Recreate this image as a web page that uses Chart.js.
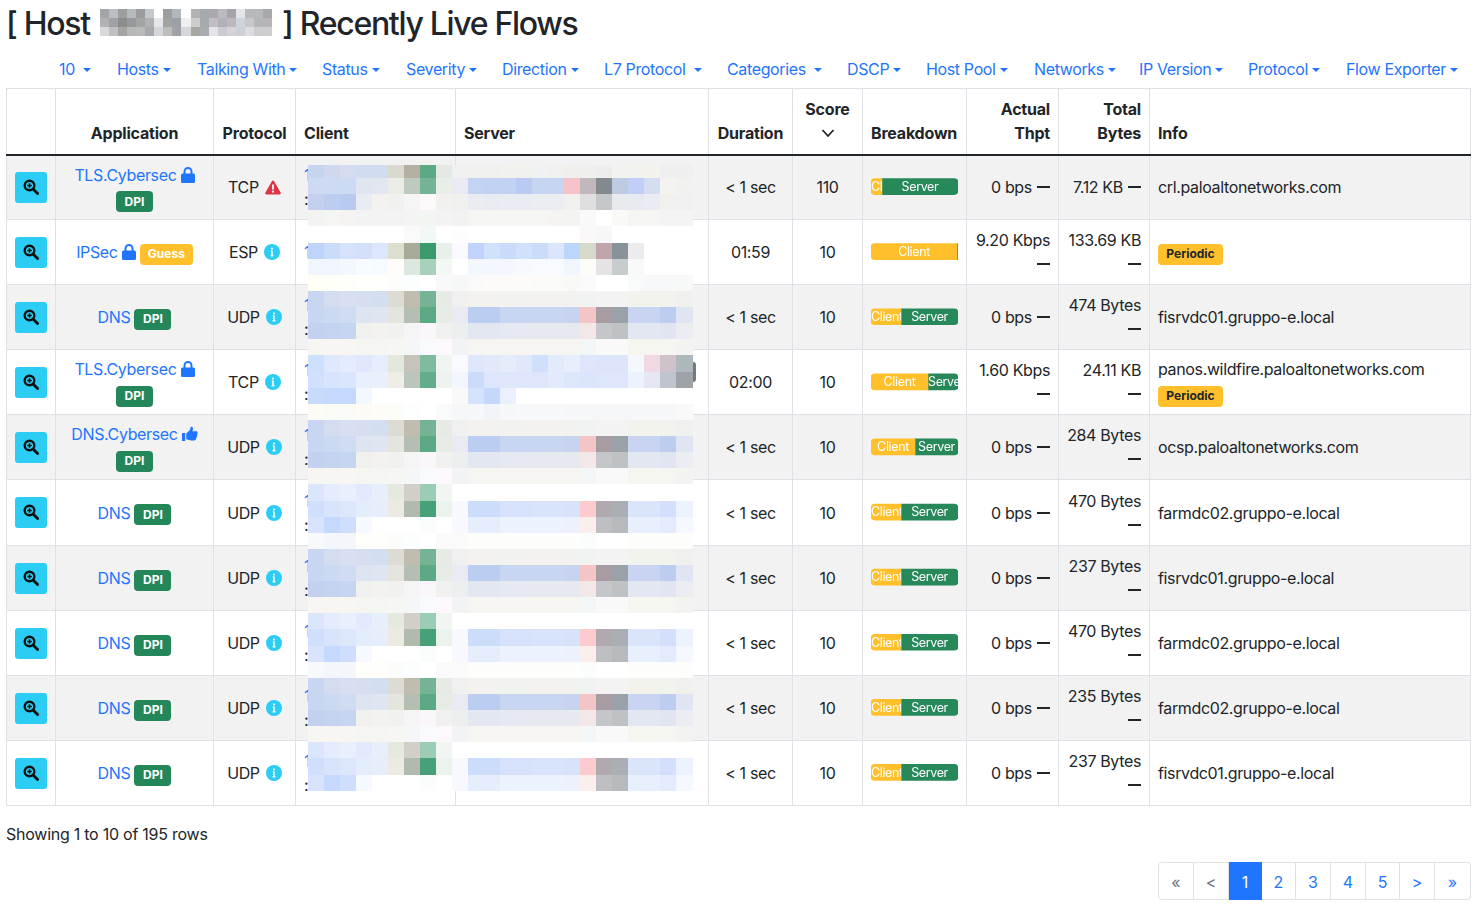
<!DOCTYPE html>
<html>
<head>
<meta charset="utf-8">
<title>Recently Live Flows</title>
<script src="https://cdn.jsdelivr.net/npm/chart.js@4"></script>
<style>
html, body { margin: 0; padding: 0; background: #fff; }
body { width: 1484px; height: 904px; position: relative; overflow: hidden; color: #212529;
  font: 16px/24px Inter, "Noto Sans", sans-serif; letter-spacing: -0.36px; }
a { color: #1f75fe; text-decoration: none; }
.abs { position: absolute; white-space: nowrap; }

h3 { position: absolute; margin: 0; top: 5px; font-size: 32px; line-height: 38px; font-weight: 500; white-space: nowrap; letter-spacing: -1.3px; }
.caret { display: inline-block; width: 0; height: 0; margin-left: 4px; vertical-align: 3px;
  border-top: 4px solid; border-left: 4px solid transparent; border-right: 4px solid transparent; }

table { position: absolute; left: 6px; top: 88px; width: 1465px; border-collapse: collapse; table-layout: fixed; }
th, td { border: 1px solid #dee2e6; padding: 0 8px; box-sizing: border-box; }
th { vertical-align: bottom; font-weight: 700; padding-bottom: 9px; border-bottom: 2px solid #212529; letter-spacing: -0.2px; }
td { vertical-align: middle; }
tbody tr:nth-child(odd) { background: #f2f2f2; }
tbody tr { height: 65px; }
tbody tr:nth-child(6) { height: 66px; }
.c { text-align: center; } .r { text-align: right; } .l { text-align: left; }
.nw { white-space: nowrap; }
.nudge { position: relative; top: 1px; }
.badge { display: inline-block; font-size: 12px; line-height: 12px; font-weight: 700; padding: 4.5px 0; border-radius: 4px;
  text-align: center; color: #fff; vertical-align: -1px; letter-spacing: 0; }
.dpi { background: #24875a; width: 37px; }
.guess { background: #ffc02b; width: 53px; }
.periodic { background: #ffc02b; color: #212529; width: 65px; }
.btn { display: inline-block; width: 32px; height: 31px; background: #2ccdf4; border-radius: 3px; vertical-align: middle; }
.btn svg { display: block; margin: 7px auto 0; }
.dash { display: inline-block; width: 13px; height: 2px; background: #212529; vertical-align: 5px; margin-left: 1px; }
svg.ic { vertical-align: -2px; }
#blur { position: absolute; left: 308px; top: 165px; width: 385px; height: 626px; overflow: hidden; }
#blur div { position: absolute; }
#hostBlur { position: absolute; left: 100px; top: 9px; width: 172px; height: 27px; overflow: hidden; }
#hostBlur div { position: absolute; }
#breakdown { position: absolute; left: 871px; top: 154px; width: 87px; height: 651px; }
.pg { position: absolute; top: 862px; height: 38px; line-height: 38px; text-align: center; box-sizing: border-box;
  border: 1px solid #dee2e6; border-left-width: 0; letter-spacing: 0; }
</style>
</head>
<body>
<h3 style="left:6px">[ Host</h3>
<div id="hostBlur"></div>
<h3 style="left:282px">] Recently Live Flows</h3>
<div id="nav"></div>
<table id="flows"></table>
<div id="blur"></div>
<div class="abs" style="left:693px;top:362px;width:3px;height:20px;background:#6f7a82;border-radius:0 3px 3px 0"></div>
<canvas id="breakdown" width="87" height="651"></canvas>
<div class="abs" style="left:6px;top:822px;letter-spacing:-0.25px">Showing 1 to 10 of 195 rows</div>
<div id="pager"></div>

<script>
'use strict';

// ── Data ─────────────────────────────────────────────────────────────────────
const navItems  = ['10', 'Hosts', 'Talking With', 'Status', 'Severity', 'Direction', 'L7 Protocol',
                   'Categories', 'DSCP', 'Host Pool', 'Networks', 'IP Version', 'Protocol', 'Flow Exporter'];
const headers   = ['', 'Application', 'Protocol', 'Client', 'Server', 'Duration', 'Score', 'Breakdown', 'Actual Thpt', 'Total Bytes', 'Info'];

const apps      = ['TLS.Cybersec', 'IPSec', 'DNS', 'TLS.Cybersec', 'DNS.Cybersec', 'DNS', 'DNS', 'DNS', 'DNS', 'DNS'];
const appIcons  = ['lock', 'lock', '', 'lock', 'thumb', '', '', '', '', ''];
const appBadges = ['DPI', 'Guess', 'DPI', 'DPI', 'DPI', 'DPI', 'DPI', 'DPI', 'DPI', 'DPI'];
const protocols = ['TCP', 'ESP', 'UDP', 'TCP', 'UDP', 'UDP', 'UDP', 'UDP', 'UDP', 'UDP'];
const durations = ['< 1 sec', '01:59', '< 1 sec', '02:00', '< 1 sec', '< 1 sec', '< 1 sec', '< 1 sec', '< 1 sec', '< 1 sec'];
const scores    = [110, 10, 10, 10, 10, 10, 10, 10, 10, 10];
const clientPct = [12.6, 98.9, 34.6, 65.5, 50.6, 34.6, 34.6, 34.6, 34.6, 34.6];
const serverPct = [87.4, 1.1, 65.4, 34.5, 49.4, 65.4, 65.4, 65.4, 65.4, 65.4];
const thpt      = ['0 bps', '9.20 Kbps', '0 bps', '1.60 Kbps', '0 bps', '0 bps', '0 bps', '0 bps', '0 bps', '0 bps'];
const bytes     = ['7.12 KB', '133.69 KB', '474 Bytes', '24.11 KB', '284 Bytes', '470 Bytes', '237 Bytes', '470 Bytes', '235 Bytes', '237 Bytes'];
const infoText  = ['crl.paloaltonetworks.com', '', 'fisrvdc01.gruppo-e.local', 'panos.wildfire.paloaltonetworks.com',
                   'ocsp.paloaltonetworks.com', 'farmdc02.gruppo-e.local', 'fisrvdc01.gruppo-e.local',
                   'farmdc02.gruppo-e.local', 'farmdc02.gruppo-e.local', 'fisrvdc01.gruppo-e.local'];
const periodic  = [false, true, false, true, false, false, false, false, false, false];
const pages     = ['«', '<', '1', '2', '3', '4', '5', '>', '»'];

// ── Pixelated addresses (colour tiles, one list per line of the mosaic) ──────
const blurRow1 = [
  ['c5d5f0','d0d8ef','d5dcef','d2dcf0','d2dcf0','d9d9d0','b4b1a3','5ca985','e3e9e3','f0f0f0','f0f0ef','f0f0ef','f1f1ee','f1f1ee','f0f1f2','f0f0ef','f1efec','efefee','ecedec','f2f2ef','f2f2ef','f3f3ec','efefef','efefef'],
  ['cddaf2','ccdbf3','ccdbf3','e0e5f0','e2e6f0','ebebe8','bccabf','74b396','e8eee8','eaeaf4','c4d3f2','c2d2f3','c2d2f3','b9cbf2','c6d5f1','c6d5f1','f6c4c8','c0b8bc','828a90','bfcbe2','c0cef8','d5def0','f5f3ef','f0f2f0'],
  ['c5cfee','bdcdf0','b8caf0','e9ecf2','f3f2ee','f1f1f0','f5f5f5','fdf9fb','f1f1f0','f0f1ef','ebecf2','e8ebf3','ebecf1','e9ecf3','ecedf2','ecedf1','f2f0ee','dfdfe0','c6c7ca','e9eaee','e8eaf2','e9edf3','f0f0ee','f0f0f0'],
  ['f3f3f1','f5f5f2','f5f4f2','f3f3f3','f3f3f3','f3f3f3','f3f4f3','f3f5f3','f2f3f2','f2f2f2','f5f5f3','f5f5f3','f5f5f3','f5f5f3','f5f5f3','f5f4f3','f3f5f3','f9f9f9','ffffff','f9f9f7','f5f5f3','f5f5f3','f4f4f4','f4f4f4']];
const blurRow2 = [
  ['ffffff','ffffff','ffffff','ffffff','ffffff','ffffff','fafafa','f2f8f5','ffffff','fdfdfd','ffffff','ffffff','ffffff','ffffff','ffffff','ffffff','ffffff','fbf8f9','f6f8f7','ffffff','ffffff','ffffff','ffffff','ffffff'],
  ['bfd4fb','cbdcfb','d6e2fc','d3e0fa','dce7fd','dcdfd0','a8ab9a','3b9a6c','e8f0ea','f9f9ff','c1d3fb','d1e1fb','c9dafb','d2e1fb','cbdcfb','dbe6fd','bcd5fb','d5dacb','c0a6aa','87929a','ececec','ffffff','ffffff','ffffff'],
  ['f0f5fe','f0f5fe','f3f7fe','f8fbff','f6fbff','fefdfb','dce8df','a8d1bb','f4f8f5','ffffff','f3f7fe','f4f8fe','f4f8fe','f6faff','f7fbff','f8faff','f0f5fe','fcfcf9','e5e3e3','c7cccf','f9f9f9','ffffff','ffffff','ffffff'],
  ['fffff5','fffff9','fefefa','fffffb','fffffb','fdfdfb','fbfefe','ffffff','f9f9f9','f6f7f7','fbfafa','fcfbfa','fcfbfa','fcfbfa','fafaf9','fafaf9','f9f9f8','f9faf9','ffffff','ffffff','f9fafa','f6f8f9','f6f8f9','f7f9f8']];
const blurGrey = [
  ['c8d6f2','d3dcf0','d8dff0','d6dff0','d3dff0','dcdcd4','c0bdb0','74b396','e6ebe6','f0f0f0','f3f2ef','f3f2ef','f2f2ef','f2f2ef','f3f2ef','f3f2ef','f2f2ef','f0f3f2','f3f3f3','f3f3f3','f3f3ee','f3f3ee','f2f2ee','f0f0ef'],
  ['c8d6f2','ccd9f2','cfdcf2','dee4f0','dfe5f1','e5e5df','b4bfb2','5caa85','e6ede7','eaeaf4','bccdf2','bccdf2','c8d6f2','c8d6f2','c8d6f2','c8d6f2','c8d3ef','f3c5c6','a69ca2','9aa1a8','c8d4f2','c8d4f2','bdcdf0','dfe5f2'],
  ['c3d1ee','c3d3f0','c6d5f0','f0f1ef','f3f2ee','f1f1f0','f5f5f5','fbf6f9','f1f1f0','edeef0','e3e7f1','e3e7f1','e6e9f2','e6e9f2','e7e9f1','e7e9f1','e7e9f1','f3e7e7','c5c6c9','bfc2c5','e3e7f1','e3e7f1','e1e5f1','ebedf2'],
  ['f7f6f2','f7f6f2','f7f6f2','f5f5f2','f5f5f2','f6f6f3','f5f6f8','f8fafd','fcf8fc','f2f3f5','f6f5f1','f6f5f1','f6f5f1','f6f5f1','f6f5f1','f6f5f1','f6f5f1','f2f6f6','f9f9f9','f9f9f9','f6f6f1','f6f6f1','f5f5f1','f3f3f2']];
const blurRow4 = [
  ['cfe0fe','dfe9fd','e5ecfd','e1e8fd','e4eefc','e3e8dc','c5c3ba','7fbc9f','f0f5f1','f8faff','dfe7fb','e3e9fb','e7ecfb','e0e8fb','d0dffb','e2eafb','e8eefc','dfe6fb','dde5fb','dde5fb','f4f8fe','f0d9e2','d0c2ca','aeb8bc'],
  ['d1e1fd','d8e4fd','dae6fd','e8effd','e8f0fd','eeede6','bac6bb','64ad8a','eef3ef','f2f6ff','ccdbfa','dde6fb','dde6fb','dee6fb','dde6fb','e2ebfb','dde7fb','dbe5fb','dee6fb','dee6fb','ecf2fe','e6e7f2','c0c4ce','9ea3a8'],
  ['c9dbfb','c5d8fd','c5d8fd','f3f7fe','ffffff','ffffff','ffffff','ffffff','ffffff','f9f9f9','d5e2fb','c5d8fb','eaf1fd','ffffff','ffffff','ffffff','ffffff','ffffff','ffffff','ffffff','ffffff','ffffff','ffffff','ffffff'],
  ['fdfbf6','fafaf7','fafaf7','fcfbf6','fdfcf7','fcfcf9','fdffff','ffffff','f9fafa','f6f7f9','f6f7f9','f1f4f9','f5f7f9','f6f8f9','f6f8f9','f6f8f9','f6f7f9','f6f7f8','f6f7f9','f6f7f9','f6f7f9','f6f7f9','f6f7f9','f9f9f9']];
const blurPlain = [
  ['dbe6fd','e4ecfd','e9effd','e4eafd','e5f0fb','e6e9df','d2cfc9','9cccb5','f2f6f3','ffffff','ffffff','ffffff','ffffff','ffffff','ffffff','ffffff','ffffff','ffffff','ffffff','ffffff','ffffff','ffffff','ffffff','ffffff'],
  ['cfdffc','d8e4fc','dce7fc','e4edfc','e6eefc','ecebe3','b0bbae','48a079','eaf3ec','f8f9ff','ccdcfb','ccdcfb','d6e2fb','d6e2fb','d8e4fc','d8e4fc','d8e2f8','fbcbcd','b0a9ad','a9afb5','dae4fb','dae4fb','d4e0fb','ecf2fe'],
  ['d9e3fb','c5d8fd','cfdefc','f6f9ff','ffffff','ffffff','ffffff','fbfdfc','ffffff','f7f9ff','e6edfd','e6edfd','ecf2fe','ecf2fe','ecf2fe','ecf2fe','edf1fc','fdeeee','bfbfc3','b6babd','e8effd','e8effd','e3ebfd','f6f8ff'],
  ['f8f9fb','f3f6fb','f3f6fb','fefefb','fefefb','fcfdfb','fbfefe','ffffff','fafafa','fafafa','fdfdfb','fdfdfb','fdfdfb','fdfdfb','fdfdfb','fdfdfb','fdfdfb','fbfdfc','ffffff','ffffff','fdfdfb','fdfdfb','fdfdfb','fdfdfb']];
const blurRows = [blurRow1, blurRow2, blurGrey, blurRow4, blurGrey, blurPlain, blurGrey, blurPlain, blurGrey, blurPlain];

const hostBlurLines = [
  ['a3a5a8','bbbfc4','9c9e9f','b5babd','9a9c9f','c4c8cf','ffffff','9c9e9e','b1b7bc','ffffff','b3b3b3','a4a9ad','a9a9ae','babbc1','a4a4aa','e3e5e9','b7b8bb','b7b9bb','a7a8ac'],
  ['b4b1b5','a0a1a5','8c8d8d','96989b','a3a5a5','aeb1b5','e6e7e9','a2a4a3','9ca1a7','eeeff1','cdcdcb','a3abad','c0bdc3','b1b1b8','bdb7bb','ccd4dc','c8c7c9','b4b5b9','b9b3b7'],
  ['dad8da','c0c0c3','a4a4a3','b7b8b8','b9bbb8','a6a9ad','d5d6da','bcbebd','9fa2a6','d6d7da','a6a7a2','a8adb1','e5e5e8','cccbd1','d4d4d6','ccd0d6','dddddd','cdcdd1','cfced1']];

const navLefts = [59, 117, 197, 322, 406, 502, 604, 727, 847, 926, 1034, 1139, 1248, 1346];
const navWide  = ['10', 'L7 Protocol', 'Categories'];

// ── Icons ────────────────────────────────────────────────────────────────────
const ICONS = {
  lock: '<svg class="ic" width="14" height="16" viewBox="0 0 14 16"><path d="M3.5 7V4.5a3.5 3.5 0 0 1 7 0V7" fill="none" stroke="#1f75fe" stroke-width="2"/><rect x="0" y="6.5" width="14" height="9.5" rx="1.6" fill="#1f75fe"/></svg>',
  thumb: '<svg class="ic" width="16" height="16" viewBox="0 0 16 16"><rect x="0" y="7" width="3.2" height="8" rx=".6" fill="#1f75fe"/><path d="M4.3 7.5 7.6 4.2c.7-.8.8-1.7.9-3 .1-.9 2.5-.9 2.6 1.2 0 1-.4 2-.8 2.8h3.9c1.6 0 1.9 2 .8 2.6.7.8.5 1.9-.3 2.4.4.9 0 1.9-.8 2.2.2 1.1-.5 2-1.7 2H9.5c-2 0-3.400-.8-5.200-1.200Z" fill="#1f75fe"/></svg>',
  search: '<svg width="16" height="16" viewBox="0 0 16 16"><circle cx="6.500" cy="6.500" r="4.800" fill="none" stroke="#111" stroke-width="2.400"/><path d="M10 10l4.600 4.600" stroke="#111" stroke-width="2.800" stroke-linecap="round"/><path d="M6.500 4.200v4.600M4.200 6.500h4.600" stroke="#111" stroke-width="1.600"/></svg>',
  warn: '<svg class="ic" width="16" height="15" viewBox="0 0 16 15"><path d="M8 .5c.5 0 .9.3 1.100.7l6.600 11.600c.4.800-.1 1.700-1.100 1.700H1.400c-1 0-1.500-.9-1.100-1.700L6.900 1.200C7.100.8 7.500.5 8 .5Z" fill="#dc3545"/><path d="M8 4.500v5" stroke="#fff" stroke-width="1.800"/><circle cx="8" cy="11.700" r="1.100" fill="#fff"/></svg>',
  info: '<svg class="ic" width="16" height="16" viewBox="0 0 16 16"><circle cx="8" cy="8" r="8" fill="#2ccdf4"/><path d="M8 7v4.500M6.600 11.800h2.800M6.800 7h1.600" stroke="#fff" stroke-width="1.500"/><circle cx="8" cy="4.500" r="1.100" fill="#fff"/></svg>'
};

// ── Header bits ──────────────────────────────────────────────────────────────
const nav = document.getElementById('nav');
navItems.forEach((label, i) => {
  const a = document.createElement('a');
  a.className = 'abs';
  a.style.left = navLefts[i] + 'px';
  a.style.top = '57px';
  const gap = navWide.includes(label) ? 8 : 4;
  a.innerHTML = label + '<span class="caret" style="margin-left:' + gap + 'px"></span>';
  nav.appendChild(a);
});

function tiles(root, lines, size, offset) {
  lines.forEach((line, row) => {
    line.forEach((hex, col) => {
      const t = document.createElement('div');
      t.style.cssText = 'left:' + (col * size.w) + 'px;top:' + (offset + row * size.h) + 'px;width:' + (size.w + 0.5) + 'px;height:' + (size.h + 0.5) + 'px;background:#' + hex;
      root.appendChild(t);
    });
  });
}
tiles(document.getElementById('hostBlur'), hostBlurLines, { w: 9.05, h: 9 }, 0);
tiles(document.getElementById('blur'), blurRows.flat(), { w: 16, h: 16.12 }, -3);

// ── Table ────────────────────────────────────────────────────────────────────
const colWidths = [49, 158, 82, 160, 253, 84, 70, 104, 92, 91, 321];
const headAlign = ['c', 'c', 'c', 'l', 'l', 'c', 'c', 'l', 'r', 'r', 'l'];
let html = '<colgroup>' + colWidths.map(w => '<col style="width:' + w + 'px">').join('') + '</colgroup><thead><tr style="height:66px">';
headers.forEach((h, i) => {
  let label = h;
  if (h === 'Score') label = 'Score<br><svg width="14" height="24" viewBox="0 0 14 24" style="display:block;margin:auto"><path d="M1.500 9l5.500 6 5.500-6" fill="none" stroke="#212529" stroke-width="1.800"/></svg>';
  if (h === 'Actual Thpt') label = 'Actual<br>Thpt';
  if (h === 'Total Bytes') label = 'Total<br>Bytes';
  html += '<th class="' + headAlign[i] + '">' + label + '</th>';
});
html += '</tr></thead><tbody>';
const dash = '<span class="dash"></span>';
apps.forEach((app, i) => {
  const wrapBadge = app.includes('.');
  const icon = appIcons[i] ? ' ' + ICONS[appIcons[i]] : '';
  const badge = '<span class="badge ' + appBadges[i].toLowerCase() + '">' + appBadges[i] + '</span>';
  const proto = protocols[i] + ' ' + (i === 0 ? ICONS.warn : ICONS.info).replace('class="ic"', 'class="ic" style="margin-left:2px"');
  // long values wrap their dash onto a second line
  const thptCell = '<span class="nw">' + thpt[i] + (thpt[i] === '0 bps' ? ' ' + dash : '') + '</span>' + (thpt[i] === '0 bps' ? '' : '<br>' + dash);
  const bytesCell = '<span class="nw">' + bytes[i] + (i === 0 ? ' ' + dash : '') + '</span>' + (i === 0 ? '' : '<br>' + dash);
  let info = infoText[i];
  if (periodic[i]) info += (info ? '<br>' : '') + '<span class="badge periodic">Periodic</span>';
  html += '<tr>'
    + '<td class="c" style="padding:0"><span class="btn">' + ICONS.search + '</span></td>'
    + '<td class="c" style="padding:0"><a' + (wrapBadge ? '' : ' class="nudge"') + '>' + app + icon + '</a>' + (wrapBadge ? '<br>' : ' ') + badge + '</td>'
    + '<td class="c" style="padding:0">' + proto + '</td>'
    + '<td><a>1</a>' + (i === 1 ? '' : '<br>:') + '</td>'
    + '<td></td>'
    + '<td class="c" style="padding:0">' + durations[i].replace('<', '&lt;') + '</td>'
    + '<td class="c">' + scores[i] + '</td>'
    + '<td></td>'
    + '<td class="r">' + thptCell + '</td>'
    + '<td class="r" style="padding-left:0">' + bytesCell + '</td>'
    + '<td>' + info + '</td></tr>';
});
document.getElementById('flows').innerHTML = html + '</tbody>';

// ── Breakdown bars ───────────────────────────────────────────────────────────
const segmentLabels = {
  id: 'segmentLabels',
  afterDatasetsDraw(chart) {
    const ctx = chart.ctx;
    ctx.save();
    ctx.font = '12.5px Inter, sans-serif';
    ctx.fillStyle = '#fff';
    ctx.textBaseline = 'middle';
    chart.data.datasets.forEach((ds, d) => {
      chart.getDatasetMeta(d).data.forEach(bar => {
        const left = Math.min(bar.base, bar.x), w = Math.abs(bar.x - bar.base);
        if (w < 2) return;
        const tw = ctx.measureText(ds.label).width;
        ctx.save();
        ctx.beginPath();
        ctx.rect(left, bar.y - 8, w, 16);
        ctx.clip();
        ctx.fillText(ds.label, Math.max(left, left + (w - tw) / 2), bar.y + 0.5);
        ctx.restore();
      });
    });
    ctx.restore();
  }
};

new Chart(document.getElementById('breakdown'), {
  type: 'bar',
  data: {
    labels: apps.map((_, i) => i + 1),
    datasets: [
      { label: 'Client', data: clientPct, backgroundColor: '#ffc02b', borderRadius: { topLeft: 4, bottomLeft: 4 }, borderSkipped: false, barThickness: 16 },
      { label: 'Server', data: serverPct, backgroundColor: '#27885a', borderRadius: { topRight: 4, bottomRight: 4 }, borderSkipped: false, barThickness: 16 }
    ]
  },
  options: {
    indexAxis: 'y',
    responsive: false,
    animation: false,
    layout: { padding: 0 },
    scales: {
      x: { stacked: true, display: false, min: 0, max: 100 },
      y: { stacked: true, display: false }
    },
    plugins: { legend: { display: false }, tooltip: { enabled: false } }
  },
  plugins: [segmentLabels]
});

// ── Pager ────────────────────────────────────────────────────────────────────
const pageEdges = [1158, 1194, 1229, 1262, 1296, 1331, 1366, 1400, 1435, 1471];
const pager = document.getElementById('pager');
pages.forEach((p, i) => {
  const d = document.createElement('div');
  d.className = 'pg';
  d.textContent = p;
  d.style.left = pageEdges[i] + 'px';
  d.style.width = (pageEdges[i + 1] - pageEdges[i]) + 'px';
  d.style.color = i < 2 ? '#6c757d' : '#1f75fe';
  if (i === 0) d.style.cssText += ';border-left-width:1px;border-radius:4px 0 0 4px';
  if (i === pages.length - 1) d.style.borderRadius = '0 4px 4px 0';
  if (p === '1') { d.style.background = '#1f75fe'; d.style.color = '#fff'; d.style.borderColor = '#1f75fe'; }
  pager.appendChild(d);
});
</script>
</body>
</html>
